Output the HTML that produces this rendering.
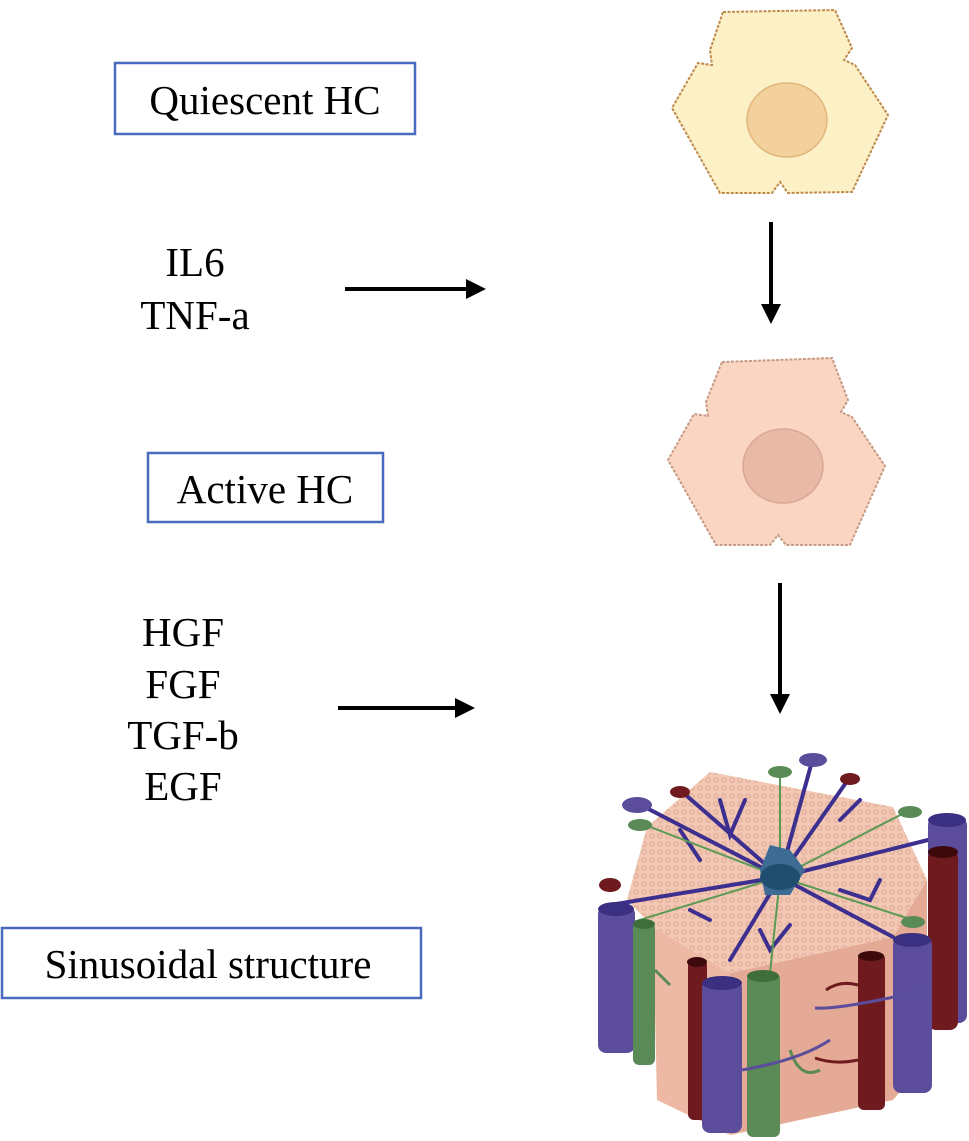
<!DOCTYPE html>
<html><head><meta charset="utf-8"><style>
html,body{margin:0;padding:0;background:#fff;}
body{width:969px;height:1141px;position:relative;overflow:hidden;}
svg{position:absolute;left:0;top:0;}
text{font-family:"Liberation Serif",serif;font-size:41px;fill:#000;}
</style></head><body>
<svg width="969" height="1141" viewBox="0 0 969 1141">
<defs>
<marker id="ah" markerWidth="5" markerHeight="5" refX="4" refY="2.5" orient="auto" markerUnits="strokeWidth"><path d="M0,0 L5,2.5 L0,5 z" fill="#000"/></marker>
<pattern id="cells" width="8" height="8" patternUnits="userSpaceOnUse"><rect width="8" height="8" fill="#f2c7b3"/><circle cx="4" cy="4" r="2.2" fill="none" stroke="#d9a48f" stroke-width="0.8"/></pattern>
</defs>
<rect x="115" y="63" width="300" height="71" fill="none" stroke="#4a6bbd" stroke-width="2.5"/>
<text x="265" y="114" text-anchor="middle">Quiescent HC</text>
<rect x="148" y="453" width="235" height="69" fill="none" stroke="#4a6bbd" stroke-width="2.5"/>
<text x="265" y="503" text-anchor="middle">Active HC</text>
<rect x="2" y="928" width="419" height="70" fill="none" stroke="#4a6bbd" stroke-width="2.5"/>
<text x="208" y="978" text-anchor="middle">Sinusoidal structure</text>
<text x="195" y="276" text-anchor="middle">IL6</text>
<text x="195" y="329" text-anchor="middle">TNF-a</text>
<text x="183" y="646" text-anchor="middle">HGF</text>
<text x="183" y="698" text-anchor="middle">FGF</text>
<text x="183" y="749" text-anchor="middle">TGF-b</text>
<text x="183" y="800" text-anchor="middle">EGF</text>
<line x1="345" y1="289" x2="482" y2="289" stroke="#000" stroke-width="4" marker-end="url(#ah)"/>
<line x1="338" y1="708" x2="471" y2="708" stroke="#000" stroke-width="4" marker-end="url(#ah)"/>
<line x1="771" y1="222" x2="771" y2="320" stroke="#000" stroke-width="4" marker-end="url(#ah)"/>
<line x1="780" y1="583" x2="780" y2="710" stroke="#000" stroke-width="4" marker-end="url(#ah)"/>
<path d="M723,12 L835,10 L852,48 L844,60 L855,65 L888,115 L852,192 L788,193 L780,182 L772,193 L720,193 L672,108 L698,63 L712,65 L710,50 Z" fill="#fcf0c6" stroke="#c08a4a" stroke-width="2" stroke-dasharray="3,1.5"/>
<ellipse cx="787" cy="120" rx="40" ry="37" fill="#f2d19c" stroke="#e2b57c" stroke-width="1.5"/>
<path d="M722,362 L832,358 L848,400 L841,412 L852,417 L885,466 L850,545 L786,545 L778,535 L770,545 L716,545 L668,460 L694,414 L708,416 L706,402 Z" fill="#fad6c2" stroke="#c79a84" stroke-width="2" stroke-dasharray="3,1.5"/>
<ellipse cx="783" cy="466" rx="40" ry="37" fill="#e8b9a6" stroke="#d9a794" stroke-width="1.5"/>
<path d="M653,927 L730,973 L730,1135 L657,1100 Z" fill="#edb9a4"/>
<path d="M730,973 L893,937 L927,880 L927,1060 L893,1100 L730,1135 Z" fill="#e4aa95"/>
<path d="M627,900 L647,827 L710,772 L893,807 L927,880 L893,937 L730,973 L653,927 Z" fill="url(#cells)"/>
<g stroke="#3c2f8f" stroke-width="4" fill="none" stroke-linecap="round">
<path d="M780,877 L637,803 M780,877 L813,758 M780,877 L928,840 M780,877 L610,905 M780,877 L730,960 M780,877 L893,937 M780,877 L850,777 M780,877 L680,790"/>
<path d="M720,800 L730,835 L745,800 M680,830 L700,860 M840,890 L870,900 L880,880 M760,930 L770,950 L790,925 M690,910 L710,920 M840,820 L860,800"/>
</g>
<g stroke="#5a9a55" stroke-width="2" fill="none">
<path d="M780,877 L780,770 M780,877 L640,823 M780,877 L910,810 M780,877 L913,920 M780,877 L770,973 M780,877 L633,922"/>
</g>
<path d="M760,870 L770,845 L790,850 L805,870 L790,895 L765,895 Z" fill="#3d6b93"/>
<ellipse cx="780" cy="877" rx="20" ry="13" fill="#1f4e6e"/>
<g>
<rect x="928" y="817" width="39" height="206" rx="8" fill="#5b4d9c"/><ellipse cx="947" cy="820" rx="19" ry="7" fill="#3a2f80"/>
<rect x="928" y="850" width="30" height="180" rx="8" fill="#6e1a1e"/><ellipse cx="943" cy="852" rx="15" ry="6" fill="#3d0a0c"/>
<rect x="598" y="906" width="37" height="147" rx="8" fill="#5b4d9c"/><ellipse cx="616" cy="909" rx="18" ry="7" fill="#3a2f80"/>
<rect x="633" y="922" width="22" height="143" rx="6" fill="#5a8a55"/><ellipse cx="644" cy="924" rx="11" ry="5" fill="#3f6e3b"/>
<rect x="688" y="960" width="19" height="160" rx="6" fill="#6e1a1e"/><ellipse cx="697" cy="962" rx="10" ry="5" fill="#3d0a0c"/>
<rect x="702" y="980" width="40" height="153" rx="8" fill="#5b4d9c"/><ellipse cx="722" cy="983" rx="20" ry="7" fill="#3a2f80"/>
<rect x="747" y="973" width="33" height="164" rx="6" fill="#5a8a55"/><ellipse cx="763" cy="976" rx="16" ry="6" fill="#3f6e3b"/>
<rect x="858" y="953" width="27" height="157" rx="6" fill="#6e1a1e"/><ellipse cx="871" cy="956" rx="13" ry="5" fill="#3d0a0c"/>
<rect x="893" y="937" width="39" height="156" rx="8" fill="#5b4d9c"/><ellipse cx="912" cy="940" rx="19" ry="7" fill="#3a2f80"/>
<ellipse cx="813" cy="760" rx="14" ry="7" fill="#5b4d9c"/><ellipse cx="850" cy="779" rx="10" ry="6" fill="#6e1a1e"/>
<ellipse cx="780" cy="772" rx="12" ry="6" fill="#5a8a55"/><ellipse cx="637" cy="805" rx="15" ry="8" fill="#5b4d9c"/>
<ellipse cx="680" cy="792" rx="10" ry="6" fill="#6e1a1e"/><ellipse cx="640" cy="825" rx="12" ry="6" fill="#5a8a55"/>
<ellipse cx="610" cy="885" rx="11" ry="7" fill="#6e1a1e"/><ellipse cx="910" cy="812" rx="12" ry="6" fill="#5a8a55"/>
<ellipse cx="913" cy="922" rx="12" ry="6" fill="#5a8a55"/>
</g>
<g stroke-width="3" fill="none">
<path d="M655,970 Q665,980 670,985 M820,1070 Q800,1080 790,1050" stroke="#5a8a55"/>
<path d="M815,1008 Q840,1010 925,990 M742,1070 Q800,1060 830,1040" stroke="#5b4d9c"/>
<path d="M826,990 Q840,980 858,985 M815,1058 Q835,1065 858,1060" stroke="#6e1a1e"/>
</g>
</svg>
</body></html>
